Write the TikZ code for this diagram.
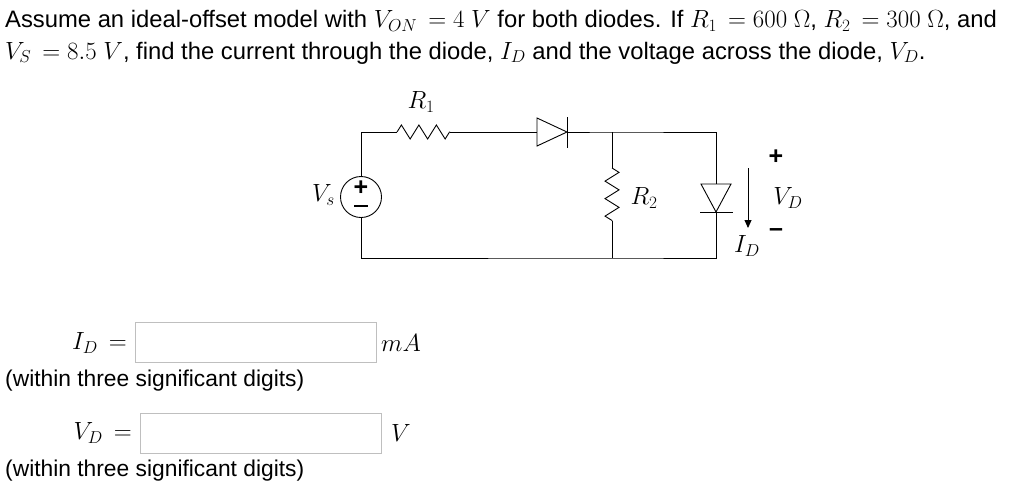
\documentclass[tikz,border=0pt]{standalone}
\usepackage{fontspec}
\setmainfont{Liberation Sans}
\usetikzlibrary{decorations.pathmorphing,arrows.meta}
\begin{document}
\begin{tikzpicture}[x=1pt,y=-1pt,
  wire/.style={line width=0.9pt},
  zz/.style={wire,decoration={zigzag,segment length=17.5pt,amplitude=7pt},decorate},
  txt/.style={font=\fontsize{23.8}{28}\selectfont,inner sep=0,anchor=west},
  sm/.style={font=\fontsize{22.8}{28}\selectfont,inner sep=0,anchor=west},
  lab/.style={font=\fontsize{25}{28}\selectfont,inner sep=0},
  box/.style={draw=black!25,fill=white,line width=0.8pt}]
\useasboundingbox (0,0) rectangle (1024,501);
\node[txt] (t1) at (5,21) {Assume an ideal-offset model with $V_{ON}\,=4\ V$ for both diodes. If $R_1\,=600\ \Omega$, $R_2\,=300\ \Omega$, and};
\node[txt] (t2) at (5,53) {$V_S\,=8.5\ V$, find the current through the diode, $I_D$ and the voltage across the diode, $V_D$.};
% circuit coordinates
\coordinate (a) at (361,132); \coordinate (b) at (361,258);
\coordinate (r1a) at (397,132); \coordinate (r1b) at (450,132);
\coordinate (d1a) at (537,132); \coordinate (d1b) at (567,132);
\coordinate (n1) at (612,132); \coordinate (n2) at (716,132);
\coordinate (m1) at (612,258); \coordinate (m2) at (716,258);
\coordinate (r2a) at (612,168); \coordinate (r2b) at (612,221);
\coordinate (d2a) at (716,184); \coordinate (d2b) at (716,212);
\node[circle,draw,line width=0.9pt,minimum size=41pt,inner sep=0] (vs) at (361,197) {};
\node[lab] at (361,188) {\textbf{+}};
\draw[line width=1.8pt] (354,206)--(368,206);
\draw[wire] (vs.north)--(a)--(r1a);
\draw[zz] (r1a)--(r1b);
\draw[wire] (r1b)--(d1a);
\draw[wire] (537,118)--(537,146)--(567,132)--cycle;
\draw[wire] (567,117)--(567,148);
\draw[wire] (d1b)--(n1)--(n2)--(d2a);
\draw[wire] (n1)--(r2a);
\draw[zz] (r2a)--(r2b);
\draw[wire] (r2b)--(m1);
\draw[wire] (701,184)--(731,184)--(716,212)--cycle;
\draw[wire] (700,212)--(733,212);
\draw[wire] (d2b)--(m2)--(m1)--(b)--(vs.south);
\coordinate (ia) at (748,168); \coordinate (ib) at (748,228);
\draw[wire,-{Triangle[length=8pt,width=7pt]}] (ia)--(ib);
\node[lab] (R1) at (421,102) {$R_1$};
\node[lab] (R2) at (644,198) {$R_2$};
\node[lab,anchor=east] (Vs) at (335,195) {$V_{s}$};
\node[lab] (VD) at (788,198) {$V_D$};
\node[lab] (ID) at (747,246) {$I_D$};
\node[lab] at (776,157) {\textbf{+}};
\node[lab] at (776,233) {\textbf{\textendash}};
% answer boxes
\node[box,minimum width=241pt,minimum height=40pt,anchor=north west,inner sep=0] (b1) at (135,322) {};
\node[box,minimum width=241pt,minimum height=40pt,anchor=north west,inner sep=0] (b2) at (140,413) {};
\node[lab,anchor=east] at (127,343) {$I_D\,=$};
\node[lab,anchor=east] at (132,433) {$V_D\,=$};
\node[lab] at (401,343) {$mA$};
\node[lab] at (401,433) {$V$};
\node[sm] at (5,381) {(within three significant digits)};
\node[sm] at (5,471) {(within three significant digits)};
\end{tikzpicture}
\end{document}
